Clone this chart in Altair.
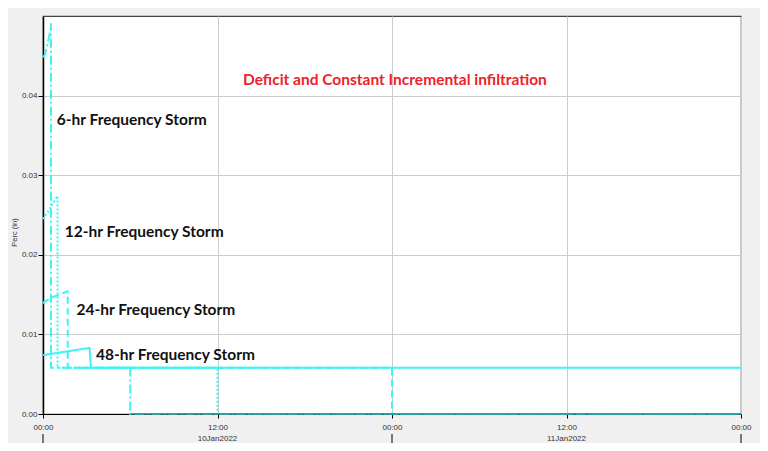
import altair as alt
import pandas as pd

# ---- data (hours since 10Jan2022 00:00, Perc in inches)
series_names = ["6-hr", "12-hr", "24-hr", "48-hr"]
hours_6 = [0, 0.15, 0.3, 0.45, 0.55, 0.55, 6, 6, 48]
perc_6 = [0.0448, 0.0452, 0.0465, 0.0476, 0.0491, 0.0058, 0.0058, 0.0, 0.0]
hours_12 = [0, 0.3, 0.7, 1.0, 1.0, 12, 12, 48]
perc_12 = [0.0245, 0.0253, 0.0265, 0.0274, 0.0058, 0.0058, 0.0, 0.0]
hours_24 = [0, 0.1, 0.7, 1.7, 1.7, 24, 24, 48]
perc_24 = [0.0139, 0.0141, 0.0147, 0.0154, 0.0058, 0.0058, 0.0, 0.0]
hours_48 = [0, 3.2, 3.3, 48]
perc_48 = [0.0074, 0.0083, 0.0058, 0.0058]

label_texts = ["6-hr Frequency Storm", "12-hr Frequency Storm",
               "24-hr Frequency Storm", "48-hr Frequency Storm"]
label_hours = [0.95, 1.5, 2.3, 3.65]
label_perc = [0.0369, 0.0229, 0.0131, 0.0074]

title_text = "Deficit and Constant Incremental infiltration"
title_hour = [24.2]
title_perc = [0.0420]

x_tick_hours = [0, 12, 24, 36, 48]
y_tick_values = [0.0, 0.01, 0.02, 0.03, 0.04]
date_labels = ["10Jan2022", "11Jan2022"]
date_hours = [12, 36]
day_hours = [0, 24, 48]

W, H = 698, 398
CYAN = "#3CF4F4"

rows = []
for name, hs, vs in zip(series_names, [hours_6, hours_12, hours_24, hours_48],
                        [perc_6, perc_12, perc_24, perc_48]):
    for i, (h, v) in enumerate(zip(hs, vs)):
        rows.append({"series": name, "t": h, "v": v, "i": i})
df = pd.DataFrame(rows)

ann_df = pd.DataFrame({"t": label_hours, "v": label_perc, "label": label_texts})
title_df = pd.DataFrame({"t": title_hour, "v": title_perc, "label": [title_text]})
date_df = pd.DataFrame({"t": date_hours, "label": date_labels})
day_df = pd.DataFrame({"t": day_hours})
zero_df = pd.DataFrame({"t0": [6], "t1": [48], "v": [0.0]})

x_enc = alt.X("t:Q", scale=alt.Scale(domain=[0, 48], nice=False),
              axis=alt.Axis(values=x_tick_hours,
                            labelExpr="datum.value % 24 == 0 ? '00:00' : '12:00'",
                            title=None, grid=True, gridColor="#CCCCCC",
                            tickSize=4, tickColor="black", domainColor="black",
                            labelFontSize=8, labelColor="#333333",
                            labelFont="Liberation Sans", labelPadding=5,
                            labelFlush=False, labelOverlap=False))
y_enc = alt.Y("v:Q", scale=alt.Scale(domain=[0, 0.05], nice=False),
              axis=alt.Axis(values=y_tick_values, format=".2f",
                            title="Perc (in)", titleFontSize=7.5,
                            titleFont="Liberation Sans", titleFontWeight="normal",
                            titleColor="#333333", titleX=-29, titleY=216,
                            titleBaseline="middle",
                            grid=True, gridColor="#CCCCCC",
                            tickSize=5, tickColor="black", domainColor="black",
                            domainWidth=1.5,
                            labelFontSize=8, labelColor="#333333",
                            labelFont="Liberation Sans", labelPadding=1,
                            labelFlush=False))

lines = alt.Chart(df).mark_line(color=CYAN, strokeWidth=2, interpolate="linear").encode(
    x=x_enc, y=y_enc,
    detail="series:N",
    order="i:Q",
    strokeDash=alt.StrokeDash("series:N",
                              scale=alt.Scale(domain=series_names,
                                              range=[[9, 3, 2, 3], [2, 2], [7, 4], [1, 0]]),
                              legend=None),
)

zero_rule = alt.Chart(zero_df).mark_rule(color="#2A8585", strokeWidth=1.5).encode(
    x="t0:Q", x2="t1:Q", y="v:Q")

ann = alt.Chart(ann_df).mark_text(align="left", baseline="middle", font="Lato",
                                  fontWeight="bold", fontSize=15.5, color="#111111").encode(
    x="t:Q", y="v:Q", text="label:N")

title = alt.Chart(title_df).mark_text(align="center", baseline="middle", font="Lato",
                                      fontWeight="bold", fontSize=15.5, color="#EE2229").encode(
    x="t:Q", y="v:Q", text="label:N")

dates = alt.Chart(date_df).mark_text(align="center", baseline="middle", font="Liberation Sans",
                                     fontSize=8, color="#333333").encode(
    x="t:Q", y=alt.value(H + 25), text="label:N")

day_marks = alt.Chart(day_df).mark_rule(color="black", strokeWidth=1).encode(
    x="t:Q", y=alt.value(H + 20), y2=alt.value(H + 32))

chart = alt.layer(lines, zero_rule, ann, title, dates, day_marks).properties(
    width=W, height=H,
    autosize=alt.AutoSizeParams(type="none"),
    padding={"left": 35, "top": 8, "right": 19, "bottom": 29},
).configure(background="#F0F0F0").configure_view(
    fill="white", stroke="#444444", strokeWidth=1.2)

chart.save("out.html", embed_options={"renderer": "svg", "actions": False})
